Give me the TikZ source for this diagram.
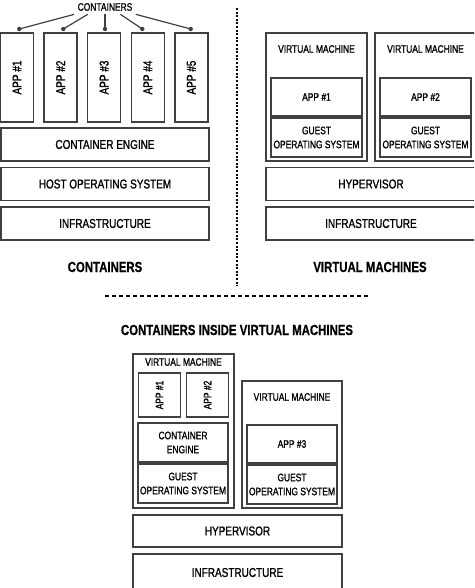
\documentclass[tikz,border=0pt]{standalone}
\usepackage{fontspec}
\setmainfont{Liberation Sans}[FakeStretch=0.78,UprightFeatures={FakeBold=1.2},BoldFeatures={FakeBold=0.6}]
\usetikzlibrary{calc}

\definecolor{boxgray}{HTML}{404040}

\begin{document}
\begin{tikzpicture}[x=1pt,y=-1pt,
	box/.style={draw=boxgray,line width=1.3pt,inner sep=0pt,outer sep=0pt,align=center},
	big/.style={font=\fontsize{12.8}{15}\selectfont},
	small/.style={font=\fontsize{10.8}{14}\selectfont,align=center},
	title/.style={font=\fontsize{14.6}{16}\selectfont\bfseries},
	pointer/.style={draw=boxgray,line width=1.2pt}]
	\useasboundingbox (0,0) rectangle (474,588);
	\clip (0,0) rectangle (474,588);
	
	% Containers
	\foreach \i/\cx/\dx in {1/17/19.3,2/60.6/63.3,3/104.2/105,4/147.8/142.3,5/191.4/190.7}
	{
		\node[box,big,minimum width=89,minimum height=33,rotate=90] (app\i) at (\cx,77.5) {APP \#\i};
		\coordinate (dot\i) at (\dx,29);
	}
	\node[box,big,minimum width=208,minimum height=33] (engine) at (105,144.5) {CONTAINER ENGINE};
	\node[box,big,minimum width=208,minimum height=33] (hostos) at (105,184) {HOST OPERATING SYSTEM};
	\node[box,big,minimum width=208,minimum height=33] (infraC) at (105,223.5) {INFRASTRUCTURE};
	\node[title] (titleC) at (105,267) {CONTAINERS};
	
	% Pointers
	\node[small] (lblC) at (105,7) {CONTAINERS};
	\draw[pointer] (lblC.south west) -- (dot1);
	\draw[pointer] ($(lblC.south west)!0.22!(lblC.south east)$) -- (dot2);
	\draw[pointer] (lblC.south) -- (dot3);
	\draw[pointer] ($(lblC.south west)!0.75!(lblC.south east)$) -- (dot4);
	\draw[pointer] (lblC.south east) -- (dot5);
	\foreach \i in {1,...,5}
	\fill[boxgray] (dot\i) circle (2.2pt);
	
	% Virtual machines
	\foreach \n/\cx in {1/316.5,2/425.5}
	{
		\node[box,minimum width=101,minimum height=128] (vm\n) at (\cx,97) {};
		\node[small] (vmlbl\n) at (\cx,49) {VIRTUAL MACHINE};
		\node[box,small,minimum width=91,minimum height=38] (vmapp\n) at (\cx,97) {APP \#\n};
		\node[box,small,minimum width=91,minimum height=39] (guest\n) at (\cx,137.5) {GUEST\\OPERATING SYSTEM};
	}
	\node[box,big,minimum width=210,minimum height=33] (hyper) at (371,184) {HYPERVISOR};
	\node[box,big,minimum width=210,minimum height=33] (infraV) at (371,223.5) {INFRASTRUCTURE};
	\node[title] (titleV) at (370,267) {VIRTUAL MACHINES};
	
	% Separators
	\coordinate (sepTop) at (237,8);
	\coordinate (sepBot) at (237,286);
	\draw[line width=2pt,dash pattern=on 2pt off 1.6pt] (sepTop) -- (sepBot);
	\coordinate (sepL) at (105,296);
	\coordinate (sepR) at (370,296);
	\draw[line width=1.8pt,dash pattern=on 4pt off 3pt] (sepL) -- (sepR);
	
	% Containers inside virtual machines
	\node[title] (titleB) at (237,330) {CONTAINERS INSIDE VIRTUAL MACHINES};
	
	\node[box,minimum width=101,minimum height=154] (vmA) at (183.5,431) {};
	\node[small] (vmlblA) at (183.5,362) {VIRTUAL MACHINE};
	\node[box,small,minimum width=44,minimum height=42,rotate=90] (appA1) at (159.5,395) {APP \#1};
	\node[box,small,minimum width=44,minimum height=42,rotate=90] (appA2) at (207.5,395) {APP \#2};
	\node[box,small,minimum width=90,minimum height=39] (engineA) at (183,442.5) {CONTAINER\\ENGINE};
	\node[box,small,minimum width=90,minimum height=39] (guestA) at (183,483.5) {GUEST\\OPERATING SYSTEM};
	
	\node[box,minimum width=100,minimum height=127] (vmB) at (292,444.5) {};
	\node[small] (vmlblB) at (292,397) {VIRTUAL MACHINE};
	\node[box,small,minimum width=90,minimum height=38] (appB) at (292,444) {APP \#3};
	\node[box,small,minimum width=90,minimum height=39] (guestB) at (292,484.5) {GUEST\\OPERATING SYSTEM};
	
	\node[box,big,minimum width=209,minimum height=32] (hyperB) at (237.5,531) {HYPERVISOR};
	\node[box,big,minimum width=209,minimum height=37] (infraB) at (237.5,572.5) {INFRASTRUCTURE};
\end{tikzpicture}
\end{document}
